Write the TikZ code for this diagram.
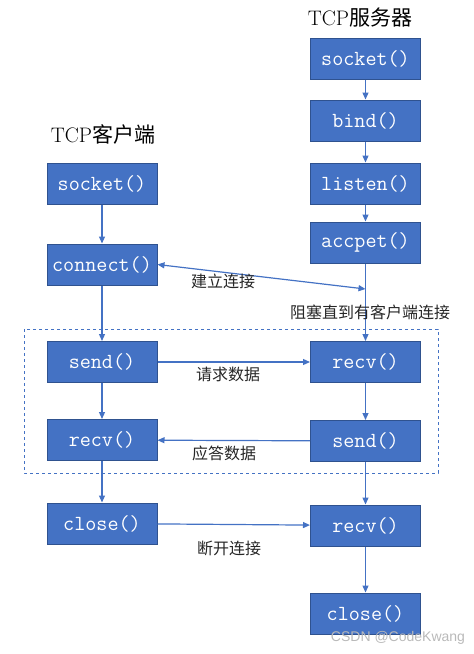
\documentclass[tikz,border=0pt]{standalone}
\usepackage{fontspec}
\newfontfamily\cjk{Noto Sans CJK SC}
\newfontfamily\markfont{Liberation Sans}
\usetikzlibrary{arrows.meta,positioning,calc}
\definecolor{boxblue}{HTML}{4472C4}
\definecolor{edgeblue}{HTML}{2F528F}
\definecolor{linkblue}{HTML}{4472C4}
\tikzset{
  fnbox/.style={draw=edgeblue, line width=1pt, fill=boxblue, text=white, minimum width=110pt, minimum height=41pt, inner sep=0pt, font=\fontsize{21.5}{25}\selectfont\ttfamily},
  arrow/.style={-{Triangle[length=7pt,width=6pt]}, line width=1.2pt, draw=linkblue},
  twoway/.style={arrow, {Triangle[length=7pt,width=6pt]}-{Triangle[length=7pt,width=6pt]}},
  note/.style={font=\fontsize{16}{19}\selectfont\cjk, text=black!85, inner sep=0pt},
  title/.style={font=\fontsize{21}{25}\selectfont, inner sep=0pt}
}

\begin{document}
\begin{tikzpicture}[x=1pt, y=-1pt]
  \useasboundingbox (0,0) rectangle (474,654);
  % client side
  \node[title] (ctitle) at (103,134) {TCP{\cjk 客户端}};
  \node[fnbox] (csock) at (102,183.5) {socket()};
  \node[fnbox] (cconn) at (102,264.5) {connect()};
  \node[fnbox] (csend) at (102,362) {send()};
  \node[fnbox] (crecv) at (102,440) {recv()};
  \node[fnbox] (cclose) at (102,523.5) {close()};
  % server side
  \node[title] (stitle) at (360,18) {TCP{\cjk 服务器}};
  \node[fnbox] (ssock) at (365.5,58.5) {socket()};
  \node[fnbox] (sbind) at (365.5,120.5) {bind()};
  \node[fnbox] (slisten) at (365.5,183.5) {listen()};
  \node[fnbox] (saccept) at (365.5,242.5) {accpet()};
  \node[fnbox] (srecv) at (365.5,362) {recv()};
  \node[fnbox] (ssend) at (365.5,441) {send()};
  \node[fnbox] (srecvb) at (365.5,525.5) {recv()};
  \node[fnbox] (sclose) at (365.5,613.5) {close()};
  % request loop
  \draw[linkblue, dashed, line width=1pt] (24,329) rectangle (438,473);
  % flow
  \draw[arrow] (csock) -- (cconn);
  \draw[arrow] (cconn) -- (csend);
  \draw[arrow] (csend) -- (crecv);
  \draw[arrow] (crecv) -- (cclose);
  \draw[arrow] (ssock) -- (sbind);
  \draw[arrow] (sbind) -- (slisten);
  \draw[arrow] (slisten) -- (saccept);
  \draw[arrow] (saccept) -- (srecv);
  \draw[arrow] (srecv) -- (ssend);
  \draw[arrow] (ssend) -- (srecvb);
  \draw[arrow] (srecvb) -- (sclose);
  % messages
  \coordinate (meet) at (365.5,289);
  \draw[twoway] (cconn.east) -- (meet);
  \draw[arrow] (csend) -- (srecv);
  \draw[arrow] (ssend) -- (crecv);
  \draw[arrow] (cclose) -- (srecvb);
  \node[note] (lconn) at (223,281) {建立连接};
  \node[note] (lblock) at (370,312) {阻塞直到有客户端连接};
  \node[note] (lreq) at (228,374) {请求数据};
  \node[note] (lresp) at (224,453) {应答数据};
  \node[note] (lclose) at (229,548) {断开连接};
  \node[font=\markfont\fontsize{14}{16}\selectfont, text=gray!55, inner sep=0pt] (mark) at (398,638) {CSDN @CodeKwang};
\end{tikzpicture}
\end{document}
